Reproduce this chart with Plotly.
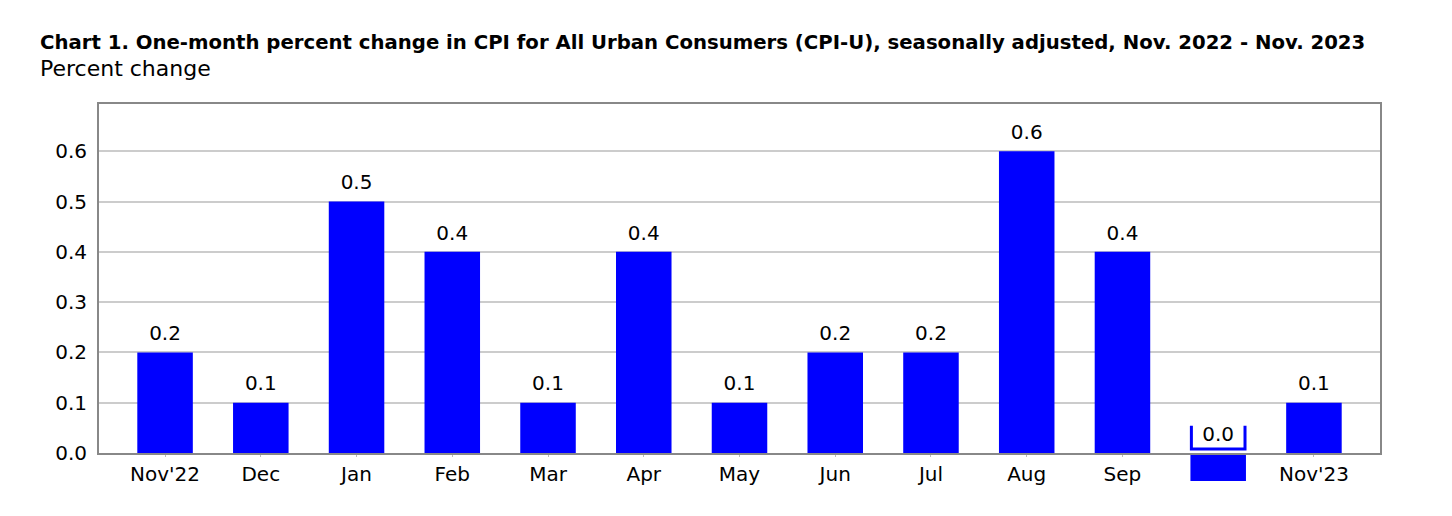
import plotly.graph_objects as go

months = ["Nov'22", "Dec", "Jan", "Feb", "Mar", "Apr", "May", "Jun", "Jul", "Aug", "Sep", "Oct", "Nov'23"]
pct_change = [0.2, 0.1, 0.5, 0.4, 0.1, 0.4, 0.1, 0.2, 0.2, 0.6, 0.4, 0.0, 0.1]
y_ticks = [0.0, 0.1, 0.2, 0.3, 0.4, 0.5, 0.6]

bar_w = 0.58
font = "DejaVu Sans"
xs = list(range(len(months)))

fig = go.Figure()
fig.add_trace(go.Bar(
    x=xs, y=pct_change, width=bar_w,
    marker=dict(color="#0000ff", line=dict(width=0)),
    hoverinfo="skip",
))
# value labels, sat a bit higher above the bars than the bar's own text would be
fig.add_trace(go.Scatter(
    x=xs, y=pct_change, mode="markers+text",
    marker=dict(size=10, opacity=0),
    text=[f"{v:.1f}" for v in pct_change],
    textposition="top center",
    textfont=dict(size=20, color="black", family=font),
    cliponaxis=False,
))

# the focus box that sits on the Oct column in the original picture
oct_i = months.index("Oct")
fig.add_shape(type="path", xref="x", yref="y", layer="above",
              path=f"M {oct_i - bar_w/2 + 0.01},0.054 L {oct_i - bar_w/2 + 0.01},0.008 "
                   f"L {oct_i + bar_w/2 - 0.01},0.008 L {oct_i + bar_w/2 - 0.01},0.054",
              line=dict(color="#0000ff", width=3))
fig.add_shape(type="rect", xref="x", yref="paper", layer="above",
              x0=oct_i - bar_w/2, x1=oct_i + bar_w/2, y0=-0.006, y1=-0.08,
              fillcolor="#0000ff", line=dict(width=0))

fig.update_layout(
    width=1452, height=516,
    margin=dict(l=91, r=80, t=96, b=71),
    plot_bgcolor="white", paper_bgcolor="white",
    showlegend=False,
    font=dict(family=font, size=20, color="black"),
    xaxis=dict(
        tickmode="array", tickvals=xs, ticktext=months,
        range=[-0.69, 12.69],
        showgrid=False,
        showline=True, linecolor="#888888", linewidth=2, mirror=True,
        ticks="outside", ticklen=2, tickwidth=1, tickcolor="#bbbbbb",
        tickfont=dict(size=20), zeroline=False,
    ),
    yaxis=dict(
        range=[0, 0.694],
        tickmode="array", tickvals=y_ticks, ticktext=[f"{v:.1f}" for v in y_ticks],
        showgrid=True, gridcolor="#cccccc", gridwidth=2,
        showline=True, linecolor="#888888", linewidth=2, mirror=True,
        ticks="", ticklabelstandoff=6,
        tickfont=dict(size=20), zeroline=False,
    ),
    annotations=[
        dict(text="<b>Chart 1. One-month percent change in CPI for All Urban Consumers (CPI-U), seasonally adjusted, Nov. 2022 - Nov. 2023</b>",
             xref="paper", yref="paper", x=0, y=1, xanchor="left", yanchor="bottom",
             xshift=-61, yshift=48, showarrow=False, font=dict(size=19.7, family=font)),
        dict(text="Percent change",
             xref="paper", yref="paper", x=0, y=1, xanchor="left", yanchor="bottom",
             xshift=-61, yshift=21, showarrow=False, font=dict(size=22, family=font)),
    ],
)

fig.write_html("out.html")
